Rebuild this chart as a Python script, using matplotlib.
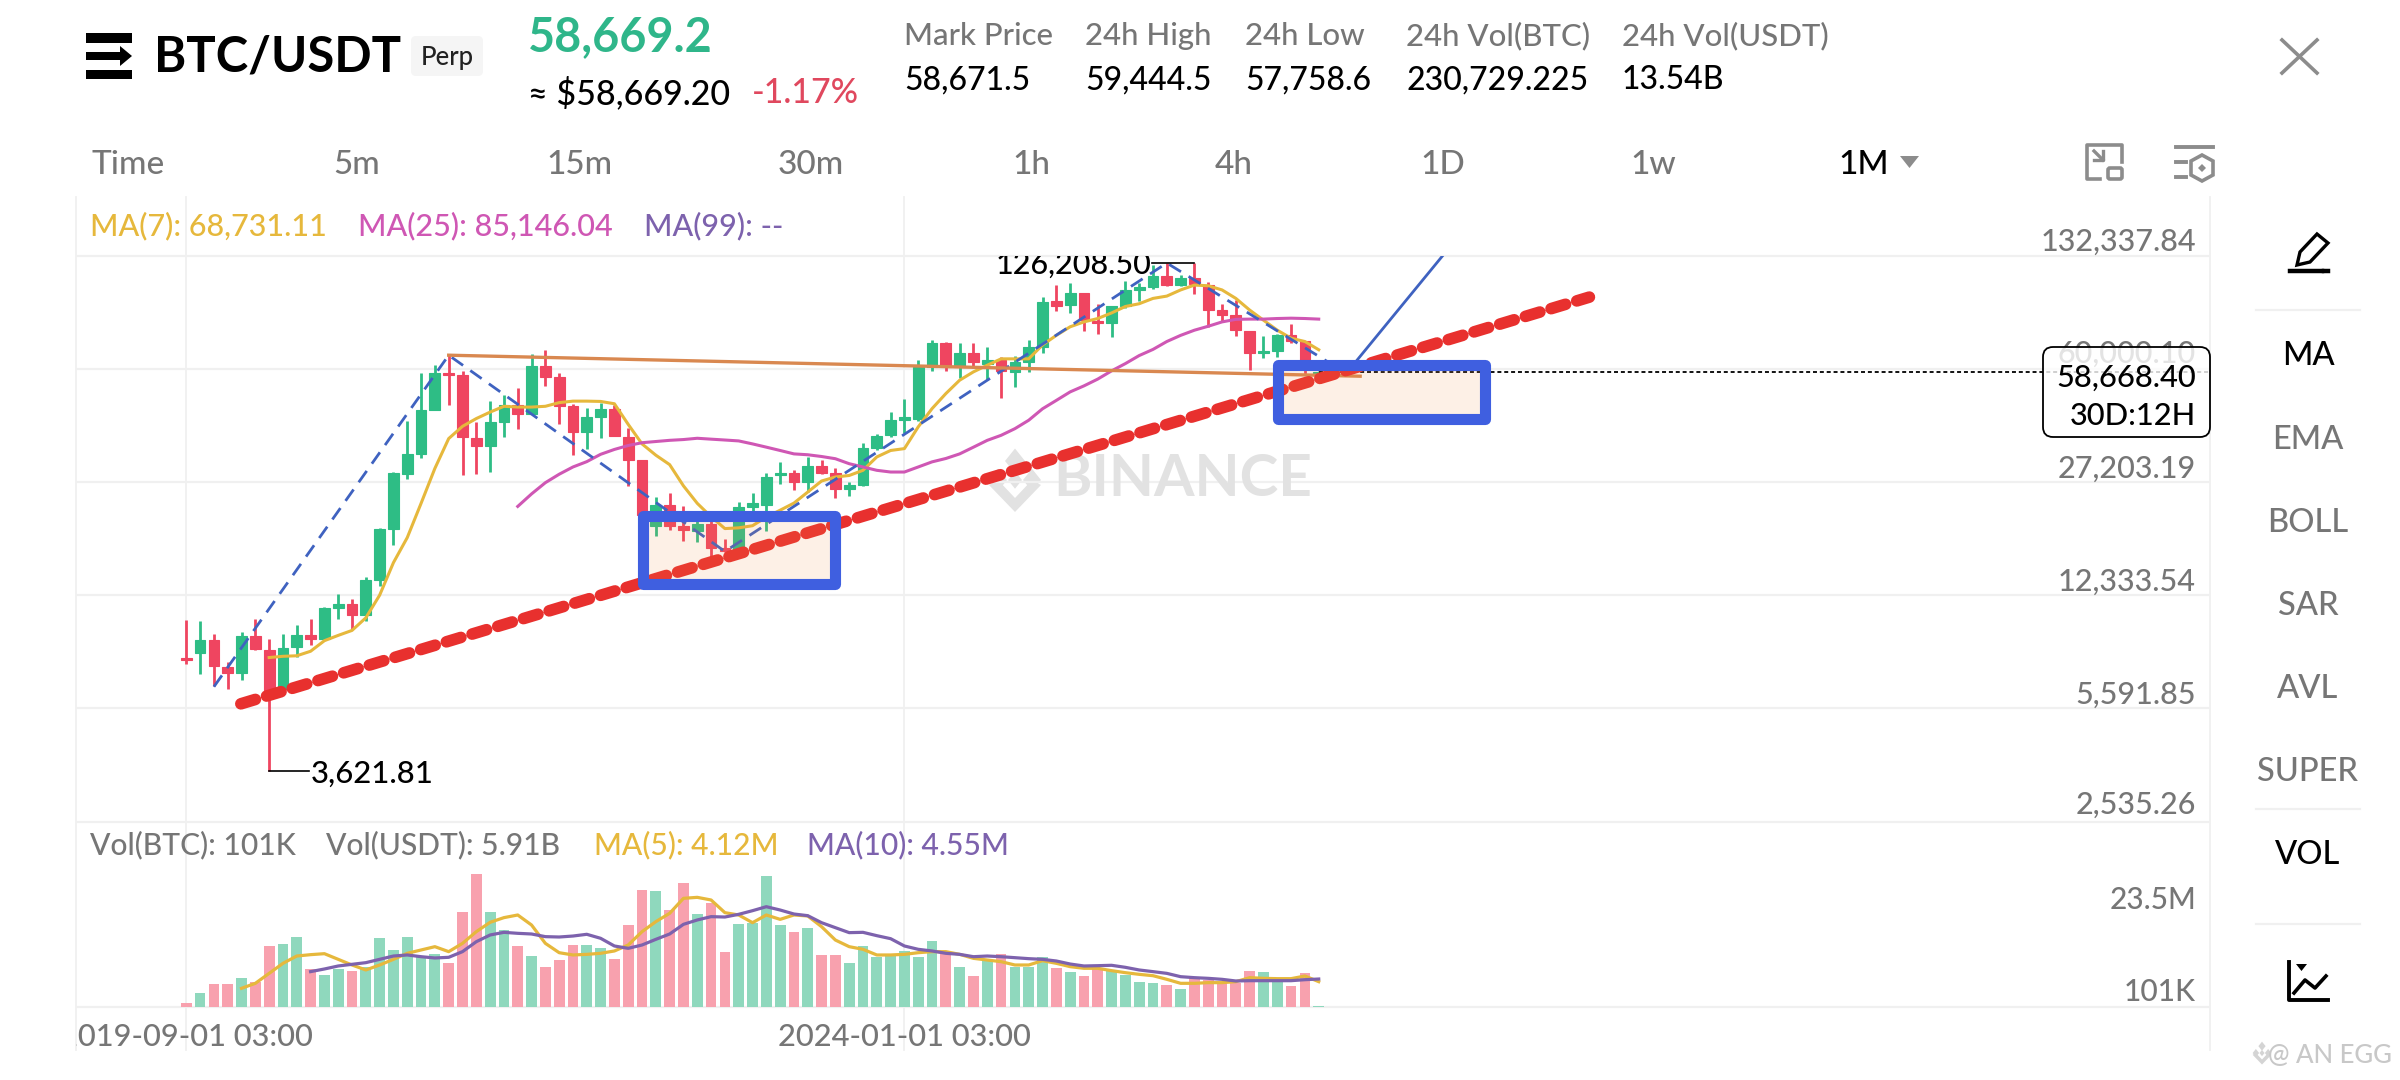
import numpy as np
import matplotlib
matplotlib.use("Agg")
import matplotlib.pyplot as plt
from matplotlib.patches import FancyBboxPatch, Rectangle, Polygon

plt.rcParams['font.family'] = ['Lato', 'DejaVu Sans']
plt.rcParams['font.weight'] = 500

# ---------- data ----------
opens = [7990,8270,9060,7490,7200,9300,8450,6420,8620,9390,
         9090,11320,11630,10760,13750,19670,28870,33100,45060,58560,
         57620,37130,34990,41450,46880,43840,61300,57000,46400,38600,
         43000,45300,37400,31800,20000,23200,20100,19400,20300,17200,
         17100,22900,23200,28550,29100,27300,30400,29100,26000,26800,
         34600,37900,42200,42400,61000,71900,61000,67300,62400,63800,
         58900,63100,70100,96500,93800,102500,84000,82600,93600,104400,
         106900,115100,108000,113300,108000,90700,87500,78300,67200,68000,
         76000,73300,58000]
highs = [10400,10310,9460,7730,9590,10480,9130,9400,10040,10450,
         11410,12430,12040,14000,19770,29170,41910,58250,61800,66030,
         59360,41450,47900,50200,52540,66900,68700,58600,47000,45600,
         47300,46700,39900,31800,24500,25200,23000,22000,21700,18300,
         23700,25200,29000,31300,29700,32400,31800,30100,27300,35800,
         38200,44600,48800,63900,73800,72800,72300,72300,70000,65200,
         66000,73500,99300,108300,109900,102500,94800,93600,111500,109600,
         124000,126000,116200,126208.5,110000,94500,97400,78600,75600,76700,
         82500,73300,59444.5]
lows = [7670,7120,6570,6420,6860,8450,3621.81,6220,8050,8730,
        9090,10450,9780,10340,13150,17530,27790,32350,45060,46880,
        28650,28800,29170,37330,39500,43840,53200,40800,33000,34300,
        37100,37500,26600,20200,18700,19500,18000,17950,16200,16700,
        16900,21900,19400,26950,25800,25500,28800,24400,24800,26500,
        34000,37400,38300,41800,59300,59300,56500,60300,55500,49000,
        52900,58900,67400,90000,88800,78400,76500,75000,92000,96700,
        105000,107500,107000,101500,80700,83500,75500,59600,65000,65500,
        72300,58200,57758.6]
closes = [7860,9060,7530,7200,9300,8500,6240,8570,9390,9090,
          11320,11630,10760,13750,19670,28950,33100,45060,58560,57620,
          37330,34990,41450,46880,43840,61300,57000,46400,38600,43000,
          45300,37500,31800,21700,23200,20100,19500,20300,17200,16800,
          22900,23500,28300,29100,27300,30400,29100,26000,26800,34600,
          37600,42200,42900,61000,71900,61000,67300,63100,64200,59300,
          63100,70100,96000,93000,102500,84700,82600,93600,104400,106900,
          115100,108000,113300,109000,90700,87500,78800,67000,68000,76000,
          73300,61000,58668.4]
ma7 = [8000,8070,8100,8360,9000,9340,9670,10560,12370,15530,
       18500,23500,30000,36950,40250,42500,44460,46300,46050,46050,
       46300,47500,48000,48000,47900,47130,40800,35600,32900,30800,
       26550,23500,21400,19700,19800,20100,21350,22400,23540,25430,
       27470,28250,28550,29600,32500,34000,34450,40100,45550,50600,
       55560,58900,61700,64500,64500,64500,71100,76000,80700,83500,
       85500,88900,93000,94800,98400,100000,104400,108000,107500,104400,
       98400,90700,84500,78800,74500,72800,68731.11]
ma25 = [23000,25100,27150,28800,30300,31450,
        33100,34250,35200,35900,36200,36500,36700,37030,36800,36580,
        36350,35600,34800,34000,33200,33000,32600,32100,31000,30300,
        29600,29250,29250,30300,31400,32150,33200,34800,36500,37800,
        39600,42000,45500,48250,51200,53400,56000,59300,62400,66000,
        68900,72800,76000,78800,81000,83500,85000,85150,85150,85500,
        85700,85500,85146.04]
volume = [0.6,2.28,3.74,3.74,4.72,4.12,9.97,10.3,11.44,6.12,
          5.26,6.18,5.9,6.56,11.27,9.27,11.38,8.08,8.62,7.2,
          15.4,21.57,15.5,12.47,9.86,8.35,6.5,7.7,10.14,10.03,
          9.6,7.8,13.28,19.0,18.86,15.77,20.1,15.2,16.9,8.94,
          13.5,13.6,21.35,13.39,12.25,12.9,8.46,8.46,7.1,9.86,
          8.08,8.46,9.1,8.18,10.73,8.56,6.56,5.04,7.64,8.62,
          6.56,6.56,8.18,6.29,5.75,5.04,6.29,6.02,5.2,4.12,
          3.85,3.58,2.93,4.66,4.39,4.0,3.85,5.9,5.64,4.5,
          3.47,5.58,0.101]
vol_ma5 = [3.04,3.85,5.47,7.1,8.29,8.51,8.67,7.75,6.83,6.02,
           6.83,7.75,8.73,9.27,9.81,9.0,10.35,12.25,13.77,14.53,
           14.96,13.33,10.35,8.83,8.46,8.56,8.73,9.11,10.08,12.25,
           13.88,15.23,17.67,17.83,17.4,15.34,14.96,13.71,
           14.96,14.25,14.96,14.8,13.06,10.89,9.81,9.38,8.46,8.46,
           8.56,8.83,9.0,9.0,8.56,7.91,7.64,7.37,6.83,6.83,
           7.53,7.1,6.56,6.29,6.29,5.91,5.58,5.31,5.09,4.5,
           3.85,3.85,3.96,3.96,4.12,4.77,4.66,4.61,4.61,5.04,4.12]
vol_ma10 = [5.75,6.18,6.67,6.94,7.21,7.75,8.29,8.46,8.18,7.97,
            8.08,9.0,10.62,11.71,12.14,11.98,11.87,11.44,11.38,11.54,
            11.82,11.17,9.92,9.54,10.08,11.0,11.87,13.44,14.15,14.69,
            14.63,15.07,15.66,
            16.31,15.77,15.12,14.85,13.71,12.9,12.09,12.14,11.6,11.11,
            9.92,9.38,9.11,8.73,8.56,8.18,8.29,8.18,8.02,7.86,
            7.75,7.48,6.99,6.67,6.72,6.78,6.45,6.02,5.75,5.47,
            4.93,4.77,4.66,4.5,4.23,4.28,4.28,4.28,4.28,4.44,4.55]
price_ticks = [132337.84, 60000.10, 27203.19, 12333.54, 5591.85, 2535.26]
price_tick_labels = ['132,337.84', '60,000.10', '27,203.19', '12,333.54', '5,591.85', '2,535.26']
date_positions = [0, 52]
date_labels = ['2019-09-01 03:00', '2024-01-01 03:00']
last_price = 58668.40

# hand drawings on the chart (bar index, price)
trend_x, trend_y = [3.95, 101.6], [5790, 99300]
zigzag_x, zigzag_y = [2, 19, 39, 71, 84], [6524, 66170, 16790, 126000, 58340]
leg_x, leg_y = [84, 91], [58340, 133000]
neck_x, neck_y = [19, 85], [66170, 57130]
box1 = (33.07, 46.97, 13410, 21440)
box2 = (79.05, 94.04, 42280, 61700)

# ---------- colours ----------
UP, DOWN = '#2ebd85', '#ef4560'
UP_V, DOWN_V = '#8fd8bd', '#f8a1ae'
C7, C25, C99 = '#e6b83c', '#cf57b4', '#7d62ad'
GRID = '#f0f0f0'
GREY = '#767676'
ICON = '#8c8c8c'

W, H = 2400, 1080
fig = plt.figure(figsize=(24, 10.8), dpi=100, facecolor='white')

def px_axes(z):
    a = fig.add_axes([0, 0, 1, 1], zorder=z)
    a.set_xlim(0, W); a.set_ylim(H, 0); a.axis('off')
    a.patch.set_alpha(0)
    return a

def region(l, t, r, b):
    return [l / W, 1 - b / H, (r - l) / W, (b - t) / H]

bg = px_axes(0)
over = px_axes(3)

L, R = 76, 2210
TOP, BOT = 256, 822
VBOT = 1007
spacing = 13.81
x0 = 186.3
xlim = ((L - x0) / spacing, (R - x0) / spacing)

# ---------- frame and grid ----------
for y in [256, 369, 482, 595, 708, 822, VBOT]:
    bg.plot([L, R], [y, y], color=GRID, lw=1.6, solid_capstyle='butt')
for x in [L, R]:
    bg.plot([x, x], [197, 1050], color=GRID, lw=1.3)
for i in date_positions:
    px = x0 + i * spacing
    bg.plot([px, px], [197, 1050], color=GRID, lw=1.3)

# ---------- watermark ----------
bg.text(1183, 480, 'BINANCE', fontsize=42, fontweight='bold', color='#e2e2e2',
        ha='center', va='center')

def diamond_mark(a, cx, cy, k, col):
    for dx, dy, s in [(0, -19, 10), (-17, 0, 9), (17, 0, 9), (0, 0, 7)]:
        a.add_patch(Polygon([(cx + k * dx, cy + k * (dy - s * 1.25)), (cx + k * (dx + s), cy + k * dy),
                             (cx + k * dx, cy + k * (dy + s * 1.25)), (cx + k * (dx - s), cy + k * dy)],
                            closed=True, color=col, lw=0))
    a.add_patch(Polygon([(cx - 26 * k, cy + 5 * k), (cx, cy + 32 * k), (cx + 26 * k, cy + 5 * k),
                         (cx + 17 * k, cy), (cx, cy + 18 * k), (cx - 17 * k, cy)],
                        closed=True, color=col, lw=0))

diamond_mark(bg, 1015, 480, 1.0, '#e2e2e2')

# ---------- price panel ----------
ax = fig.add_axes(region(L, TOP, R, BOT), zorder=1)
ax.patch.set_alpha(0)
ax.set_yscale('log')
ax.set_xlim(*xlim)
ax.set_ylim(price_ticks[-1], price_ticks[0])
ax.axis('off')

idx = np.arange(len(opens))
o, h, l, c = map(np.array, (opens, highs, lows, closes))
up = c >= o
colors = [UP if u else DOWN for u in up]
ax.vlines(idx, l, h, colors=colors, lw=2.0, zorder=2)
ax.bar(idx, np.abs(c - o), bottom=np.minimum(o, c), width=0.78, color=colors,
       edgecolor=colors, lw=0.8, zorder=2)

ax.plot(np.arange(6, 6 + len(ma7)), ma7, color=C7, lw=2.2, zorder=3)
ax.plot(np.arange(24, 24 + len(ma25)), ma25, color=C25, lw=2.2, zorder=3)

ax.plot(zigzag_x, zigzag_y, color='#3f62c0', lw=2.0, ls=(0, (5, 3.2)), zorder=4)
ax.plot(leg_x, leg_y, color='#3f62c0', lw=2.0, zorder=4)
ax.plot(neck_x, neck_y, color='#d98850', lw=2.4, zorder=4)
ax.hlines(last_price, 82, xlim[1], color='black', lw=1.3, ls=(0, (2.2, 1.6)), zorder=5)

ax.plot(trend_x, trend_y, color='#e8302e', lw=8.4, ls=(0, (1.3, 1.0)),
        dash_capstyle='round', zorder=5)
for x_a, x_b, y_a, y_b in (box1, box2):
    ax.add_patch(Rectangle((x_a, y_a), x_b - x_a, y_b - y_a, facecolor=(0.96, 0.55, 0.25, 0.13),
                           edgecolor='#3f5fe0', lw=8, zorder=6, joinstyle='round'))

# min / max annotations
hi_i = int(np.argmax(h)); lo_i = int(np.argmin(l))
ax.plot([hi_i, 69.9], [h[hi_i], h[hi_i]], color='black', lw=1.2, zorder=7)
ax.text(69.9, h[hi_i] * 0.985, '126,208.50', ha='right', va='center', fontsize=22, color='black',
        clip_on=True, zorder=7)
ax.plot([lo_i, 8.9], [l[lo_i], l[lo_i]], color='black', lw=1.2, zorder=7)
ax.text(9.0, l[lo_i] * 0.98, '3,621.81', ha='left', va='center', fontsize=22.4, color='black', zorder=7)

# ---------- volume panel ----------
axv = fig.add_axes(region(L, BOT, R, VBOT), zorder=1)
axv.patch.set_alpha(0)
axv.set_xlim(*xlim)
axv.set_ylim(0, 30.08)
axv.axis('off')
axv.bar(idx, volume, width=0.78, color=[UP_V if u else DOWN_V for u in up], lw=0)
axv.plot(np.arange(4, 4 + len(vol_ma5)), vol_ma5, color=C7, lw=2.3)
axv.plot(np.arange(9, 9 + len(vol_ma10)), vol_ma10, color=C99, lw=2.3)

# ---------- date axis ----------
axd = fig.add_axes(region(L, VBOT, R, 1062), zorder=1)
axd.patch.set_alpha(0)
axd.set_xlim(*xlim); axd.set_ylim(0, 1); axd.axis('off')
for i, s in zip(date_positions, date_labels):
    axd.text(i, 0.45, s, ha='center', va='center', fontsize=22.2, color=GREY, clip_on=True)

# ---------- price labels ----------
label_y = [242, 354, 469, 582, 695, 805]
for y, s in zip(label_y, price_tick_labels):
    over.text(2196, y, s, ha='right', va='center', fontsize=22, color=GREY, zorder=1)
over.add_patch(FancyBboxPatch((2043, 347), 167, 90, boxstyle='round,pad=0,rounding_size=10',
                              facecolor=(1, 1, 1, 0.8), edgecolor='black', lw=1.3, zorder=2))
over.text(2196, 378, '58,668.40', ha='right', va='center', fontsize=22.2, color='black', zorder=3)
over.text(2196, 416, '30D:12H', ha='right', va='center', fontsize=22.2, color='black', zorder=3)
over.text(2196, 900, '23.5M', ha='right', va='center', fontsize=21.5, color=GREY)
over.text(2196, 992, '101K', ha='right', va='center', fontsize=21.5, color=GREY)

# ---------- legends ----------
def row(items, y, size):
    for x, s, col in items:
        over.text(x, y, s, ha='left', va='center', fontsize=size, color=col)

row([(90, 'MA(7): 68,731.11', C7), (358, 'MA(25): 85,146.04', C25), (644, 'MA(99): --', C99)], 226, 22)
row([(90, 'Vol(BTC): 101K', GREY), (326, 'Vol(USDT): 5.91B', GREY),
     (594, 'MA(5): 4.12M', C7), (807, 'MA(10): 4.55M', C99)], 845, 21.6)

# ---------- header ----------
for t, b in [(33, 43), (70, 79)]:
    bg.add_patch(Rectangle((86, t), 46, b - t, color='black', lw=0))
bg.add_patch(Rectangle((86, 52), 34, 8, color='black', lw=0))
bg.add_patch(Polygon([(120, 46), (132, 56), (120, 66)], closed=True, color='black', lw=0))
bg.text(154, 57, 'BTC/USDT', fontsize=35.3, fontweight='bold', color='black', ha='left', va='center')
bg.add_patch(FancyBboxPatch((411, 36), 72, 40, boxstyle='round,pad=0,rounding_size=5',
                            facecolor='#f5f5f5', edgecolor='none'))
bg.text(447, 57, 'Perp', fontsize=18.5, color='#222222', ha='center', va='center')
bg.text(528, 37, '58,669.2', fontsize=33.7, fontweight='bold', color='#2fb68a', ha='left', va='center')
bg.text(528, 93, '≈ $58,669.20', fontsize=24.5, color='black', ha='left', va='center')
bg.text(752, 93, '-1.17%', fontsize=24.4, color='#e0485e', ha='left', va='center')

stats_x = [904, 1085, 1245, 1406, 1622]
stats_labels = ['Mark Price', '24h High', '24h Low', '24h Vol(BTC)', '24h Vol(USDT)']
stats_values = ['58,671.5', '59,444.5', '57,758.6', '230,729.225', '13.54B']
for x, a, b in zip(stats_x, stats_labels, stats_values):
    bg.text(x, 36, a, fontsize=22.4, color=GREY, ha='left', va='center')
    bg.text(x, 80, b, fontsize=23, color='black', ha='left', va='center')

intervals = [('Time', 128), ('5m', 357), ('15m', 579), ('30m', 811), ('1h', 1031),
             ('4h', 1234), ('1D', 1443), ('1w', 1653)]
for s, x in intervals:
    bg.text(x, 165, s, fontsize=24, color=GREY, ha='center', va='center')
bg.text(1864, 165, '1M', fontsize=24, color='black', ha='center', va='center')
bg.add_patch(Polygon([(1900, 156), (1919, 156), (1909.5, 168)], closed=True, color=ICON, lw=0))

# close cross
bg.plot([2282, 2317], [40, 73], color=ICON, lw=2.6)
bg.plot([2282, 2317], [73, 40], color=ICON, lw=2.6)

# toolbar icons
bg.plot([2100, 2087, 2087, 2122, 2122], [179, 179, 145, 145, 162], color=ICON, lw=2.6,
        solid_joinstyle='round')
bg.add_patch(FancyBboxPatch((2108, 168), 14, 11, boxstyle='round,pad=0,rounding_size=2',
                            fill=False, edgecolor=ICON, lw=2.6))
bg.plot([2094, 2103], [151, 160], color=ICON, lw=2.4)
bg.plot([2094, 2094, 2103, 2103], [160, 160, 160, 151], color=ICON, lw=2.4)
bg.plot([2176, 2213], [147, 147], color=ICON, lw=2.8)
bg.plot([2176, 2186], [162, 162], color=ICON, lw=2.8)
bg.plot([2176, 2186], [177, 177], color=ICON, lw=2.8)
bg.add_patch(Polygon([(2202, 155), (2213, 161), (2213, 175), (2202, 181), (2191, 175), (2191, 161)],
                     closed=True, fill=False, edgecolor=ICON, lw=2.6))
bg.add_patch(Polygon([(2202, 164), (2206, 168), (2202, 172), (2198, 168)], closed=True, color=ICON, lw=0))

# ---------- right menu ----------
menu = [('MA', 356, 'black'), ('EMA', 440, GREY), ('BOLL', 523, GREY), ('SAR', 606, GREY),
        ('AVL', 689, GREY), ('SUPER', 772, GREY), ('VOL', 855, 'black')]
for s, y, col in menu:
    bg.text(2308, y, s, fontsize=23.5, color=col, ha='center', va='center')
for y in [310, 809, 924]:
    bg.plot([2256, 2360], [y, y], color=GRID, lw=1.6)
bg.add_patch(Polygon([(2297, 265), (2300, 252), (2317, 234), (2328, 243), (2310, 262)],
                     closed=True, fill=False, edgecolor='black', lw=2.4))
bg.plot([2290, 2322], [271, 271], color='black', lw=3.2)
bg.plot([2324, 2328], [271, 271], color='black', lw=3.2)
bg.plot([2289, 2289, 2328], [962, 1000, 1000], color='black', lw=2.8, solid_joinstyle='round')
bg.plot([2294, 2305, 2315, 2326], [993, 980, 988, 976], color='black', lw=2.6)
bg.add_patch(Polygon([(2296, 964), (2307, 964), (2301.5, 971)], closed=True, color='black', lw=0))

bg.text(2392, 1056, '@ AN EGG', fontsize=18.5, color='#c8c8c8', ha='right', va='center')
diamond_mark(bg, 2262, 1053, 0.36, '#d4d4d4')

fig.savefig('out.png', dpi=100, facecolor='white')
